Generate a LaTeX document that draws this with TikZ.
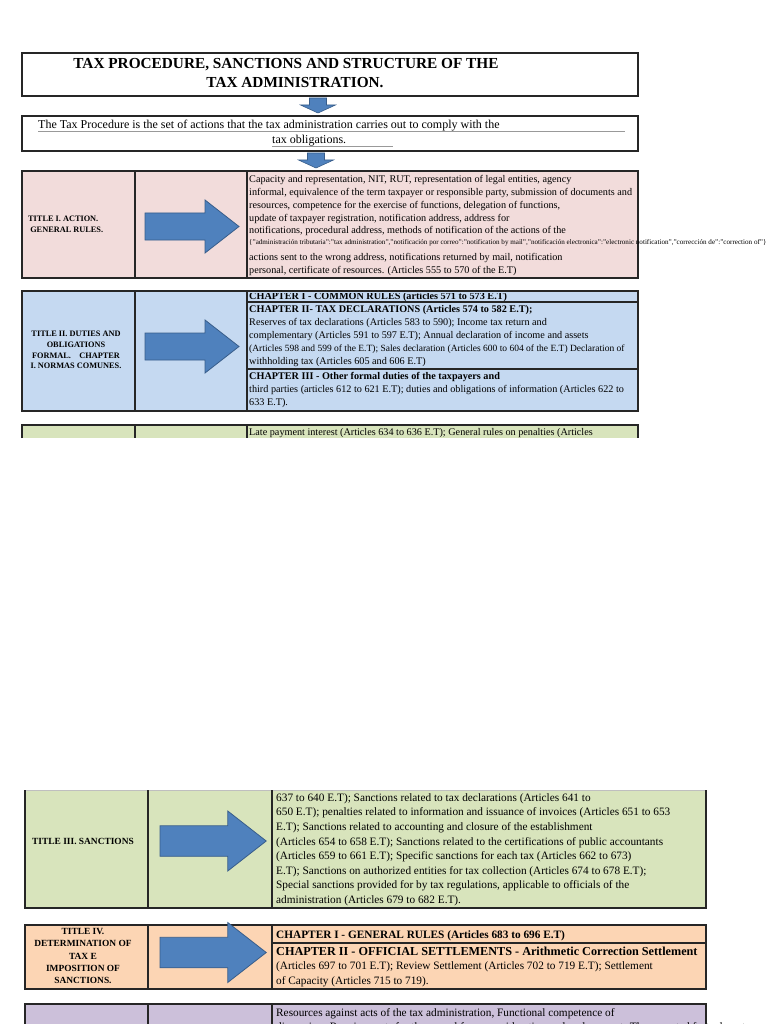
\documentclass[tikz,border=0pt]{standalone}
\usepackage{fontspec}
\setmainfont{Liberation Serif}

\definecolor{pinkrow}{HTML}{F2DCDB}
\definecolor{bluerow}{HTML}{C5D9F1}
\definecolor{greenrow}{HTML}{D8E4BC}
\definecolor{orangerow}{HTML}{FCD5B4}
\definecolor{purplerow}{HTML}{CCC0DA}
\definecolor{arrowfill}{HTML}{4F81BD}
\definecolor{arrowedge}{HTML}{385D8A}

\begin{document}
\begin{tikzpicture}[x=1pt, y=-1pt,
        frame/.style={draw=black!85, line width=1.5pt},
        cell/.style={draw=black!85, line width=1.3pt},
        heading/.style={font=\bfseries\fontsize{15.3}{19}\selectfont, inner sep=0, anchor=base},
        intro/.style={font=\fontsize{12}{14}\selectfont, inner sep=0},
        body/.style={font=\fontsize{10.2}{12.9}\selectfont, inner sep=0, align=left, anchor=north west},
        small/.style={font=\fontsize{9.4}{12.9}\selectfont},
        lowbody/.style={font=\fontsize{11.3}{14.65}\selectfont, inner sep=0, align=left, anchor=north west},
        tinytext/.style={font=\fontsize{7.1}{8}\selectfont, inner sep=0, anchor=base west},
        titlecell/.style={font=\bfseries\fontsize{8.3}{10.8}\selectfont, inner sep=0},
        lowtitle/.style={font=\bfseries\fontsize{9.4}{12.3}\selectfont, inner sep=0},
        rarrow/.pic={\draw[fill=arrowfill, draw=arrowedge, line width=0.8pt]
            (0,-13.5) -- (60,-13.5) -- (60,-26.5) -- (94,0) -- (60,26.5) -- (60,13.5) -- (0,13.5) -- cycle;},
        darrow/.pic={\draw[fill=arrowfill, draw=arrowedge, line width=0.6pt]
            (-8.5,0) -- (8.5,0) -- (8.5,7) -- (17.5,7) -- (0,15) -- (-17.5,7) -- (-8.5,7) -- cycle;}
    ]
    \useasboundingbox (0,0) rectangle (768,1024);
    \fill[white] (0,0) rectangle (768,1024);
    \clip (0,0) rectangle (768,1024);

    % title and intro
    \draw[frame] (22,53) rectangle (638,96);
    \node[heading] (title1) at (286,69) {TAX PROCEDURE, SANCTIONS AND STRUCTURE OF THE};
    \node[heading] (title2) at (295,88) {TAX ADMINISTRATION.};
    \pic (down1) at (318,98) {darrow};
    \draw[frame] (22,116) rectangle (638,151);
    \node[intro, anchor=base west] (intro1) at (38,129) {The Tax Procedure is the set of actions that the tax administration carries out to comply with the};
    \node[intro, anchor=base west] (intro2) at (272,144) {tax obligations.};
    \draw[black!40] (38,131) -- (625,131);
    \draw[black!40] (272,146) -- (393,146);
    \pic (down2) at (316,153) {darrow};

    % title I
    \draw[cell, fill=pinkrow] (22,171) rectangle (638,278);
    \draw[cell] (135,171) -- (135,278) (247,171) -- (247,278);
    \node[titlecell, align=left, anchor=west] (t1) at (28,224.5) {TITLE I. ACTION.\\ \ GENERAL RULES.};
    \pic (a1) at (145,226.5) {rarrow};
    \node[body] (c1a) at (249,175) {Capacity and representation, NIT, RUT, representation of legal entities, agency\\
        informal, equivalence of the term taxpayer or responsible party, submission of documents and\\
        resources, competence for the exercise of functions, delegation of functions,\\
        update of taxpayer registration, notification address, address for\\
        notifications, procedural address, methods of notification of the actions of the};
    \node[tinytext] (c1b) at (249,244.5) {\{"administración tributaria":"tax administration","notificación por correo":"notification by mail","notificación electronica":"electronic notification","corrección de":"correction of"\}};
    \node[body] (c1c) at (249,253) {actions sent to the wrong address, notifications returned by mail, notification\\
        personal, certificate of resources. (Articles 555 to 570 of the E.T)};

    % title II
    \draw[cell, fill=bluerow] (22,291) rectangle (638,411);
    \draw[cell] (135,291) -- (135,411) (247,291) -- (247,411);
    \draw[cell] (247,302) -- (638,302) (247,369) -- (638,369);
    \node[titlecell, align=center] (t2) at (76,350) {TITLE II. DUTIES AND\\OBLIGATIONS\\FORMAL.\quad CHAPTER\\I. NORMAS COMUNES.};
    \pic (a2) at (145,346.5) {rarrow};
    \begin{scope}
        \clip (247,293) rectangle (638,302);
        \node[body, anchor=base west, font=\bfseries\fontsize{10.2}{12.9}\selectfont] (c2a) at (249,299.5) {CHAPTER I - COMMON RULES (articles 571 to 573 E.T)};
    \end{scope}
    \node[body] (c2b) at (249,305.5) {\textbf{CHAPTER II- TAX DECLARATIONS (Articles 574 to 582 E.T);}\\
        Reserves of tax declarations (Articles 583 to 590); Income tax return and\\
        complementary (Articles 591 to 597 E.T); Annual declaration of income and assets\\
        {\fontsize{9.5}{12.9}\selectfont (Articles 598 and 599 of the E.T); Sales declaration (Articles 600 to 604 of the E.T) Declaration of}\\
        withholding tax (Articles 605 and 606 E.T)};
    \node[body] (c2c) at (249,372.5) {\textbf{CHAPTER III - Other formal duties of the taxpayers and}\\
        third parties (articles 612 to 621 E.T); duties and obligations of information (Articles 622 to\\
        633 E.T).};

    % title III, upper piece
    \fill[greenrow] (22,425) rectangle (638,438);
    \draw[cell] (22,438) -- (22,425) -- (638,425) -- (638,438) (135,425) -- (135,438) (247,425) -- (247,438);
    \node[body, anchor=base west] (c3a) at (249,435) {Late payment interest (Articles 634 to 636 E.T); General rules on penalties (Articles};

    % title III, lower piece
    \fill[greenrow] (25,790) rectangle (706,908);
    \draw[black!25] (25,790) -- (706,790);
    \draw[cell] (25,790) -- (25,908) -- (706,908) -- (706,790) (148,790) -- (148,908) (272,790) -- (272,908);
    \node[lowtitle, anchor=west] (t3) at (32,841) {TITLE III. SANCTIONS};
    \pic[scale=1.13] (a3) at (160,841) {rarrow};
    \node[lowbody] (c3b) at (276,793) {637 to 640 E.T); Sanctions related to tax declarations (Articles 641 to\\
        650 E.T); penalties related to information and issuance of invoices (Articles 651 to 653\\
        E.T); Sanctions related to accounting and closure of the establishment\\
        (Articles 654 to 658 E.T); Sanctions related to the certifications of public accountants\\
        (Articles 659 to 661 E.T); Specific sanctions for each tax (Articles 662 to 673)\\
        E.T); Sanctions on authorized entities for tax collection (Articles 674 to 678 E.T);\\
        Special sanctions provided for by tax regulations, applicable to officials of the\\
        administration (Articles 679 to 682 E.T).};

    % title IV
    \draw[cell, fill=orangerow] (25,925) rectangle (706,989);
    \draw[cell] (148,925) -- (148,989) (272,925) -- (272,989) (272,943) -- (706,943);
    \node[lowtitle, align=center] (t4) at (83,956) {TITLE IV.\\DETERMINATION OF\\TAX E\hspace*{29pt}\\IMPOSITION OF\\SANCTIONS.};
    \pic[scale=1.13] (a4) at (160,952.5) {rarrow};
    \node[lowbody, anchor=base west, font=\bfseries\fontsize{11.3}{14.65}\selectfont] (c4a) at (276,938.5) {CHAPTER I - GENERAL RULES (Articles 683 to 696 E.T)};
    \node[lowbody] (c4b) at (276,946.5) {{\bfseries\fontsize{12.2}{14.65}\selectfont CHAPTER II - OFFICIAL SETTLEMENTS - Arithmetic Correction Settlement}\\
        (Articles 697 to 701 E.T); Review Settlement (Articles 702 to 719 E.T); Settlement\\
        of Capacity (Articles 715 to 719).};

    % title V, cut at the page edge
    \draw[cell, fill=purplerow] (25,1004) rectangle (706,1040);
    \draw[cell] (148,1004) -- (148,1040) (272,1004) -- (272,1040);
    \node[lowbody] (c5) at (276,1008) {Resources against acts of the tax administration, Functional competence of\\
        discussion. Requirements for the appeal for reconsideration and replacement. The accepted facts do not};
\end{tikzpicture}
\end{document}
